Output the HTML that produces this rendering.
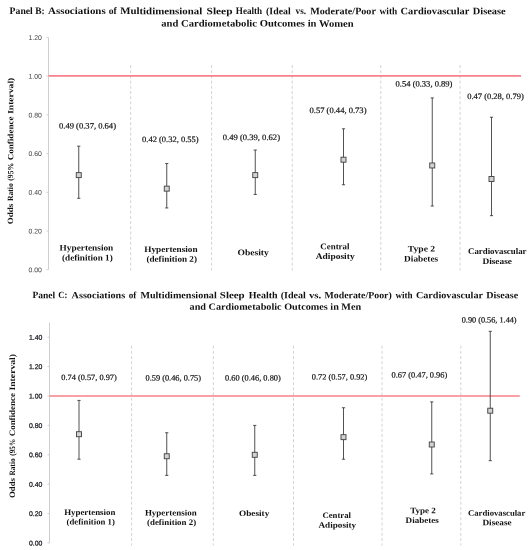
<!DOCTYPE html>
<html><head><meta charset="utf-8"><title>Sleep health forest plots</title>
<style>html,body{margin:0;padding:0;background:#fff}svg{display:block}</style></head>
<body>
<svg width="531" height="550" viewBox="0 0 531 550">
<rect width="531" height="550" fill="#fff"/>
<line x1="130.7" y1="65.0" x2="130.7" y2="270.5" stroke="#d3d3d3" stroke-width="1" stroke-dasharray="3 2.2"/>
<line x1="211.6" y1="65.0" x2="211.6" y2="270.5" stroke="#d3d3d3" stroke-width="1" stroke-dasharray="3 2.2"/>
<line x1="292.2" y1="65.0" x2="292.2" y2="270.5" stroke="#d3d3d3" stroke-width="1" stroke-dasharray="3 2.2"/>
<line x1="380.8" y1="65.0" x2="380.8" y2="270.5" stroke="#d3d3d3" stroke-width="1" stroke-dasharray="3 2.2"/>
<line x1="460.1" y1="65.0" x2="460.1" y2="270.5" stroke="#d3d3d3" stroke-width="1" stroke-dasharray="3 2.2"/>
<line x1="48.5" y1="37.5" x2="48.5" y2="269.7" stroke="#cfcfcf" stroke-width="1"/>
<line x1="46.5" y1="269.7" x2="48.5" y2="269.7" stroke="#cfcfcf" stroke-width="1"/>
<text x="41.9" y="272.2" font-family='"Liberation Sans", sans-serif' font-size="6.9" font-weight="normal" text-anchor="end" fill="#444" transform="rotate(0.03 41.9 272.2)">0.00</text>
<line x1="46.5" y1="231.0" x2="48.5" y2="231.0" stroke="#cfcfcf" stroke-width="1"/>
<text x="41.9" y="233.5" font-family='"Liberation Sans", sans-serif' font-size="6.9" font-weight="normal" text-anchor="end" fill="#444" transform="rotate(0.03 41.9 233.5)">0.20</text>
<line x1="46.5" y1="192.3" x2="48.5" y2="192.3" stroke="#cfcfcf" stroke-width="1"/>
<text x="41.9" y="194.8" font-family='"Liberation Sans", sans-serif' font-size="6.9" font-weight="normal" text-anchor="end" fill="#444" transform="rotate(0.03 41.9 194.8)">0.40</text>
<line x1="46.5" y1="153.6" x2="48.5" y2="153.6" stroke="#cfcfcf" stroke-width="1"/>
<text x="41.9" y="156.1" font-family='"Liberation Sans", sans-serif' font-size="6.9" font-weight="normal" text-anchor="end" fill="#444" transform="rotate(0.03 41.9 156.1)">0.60</text>
<line x1="46.5" y1="114.9" x2="48.5" y2="114.9" stroke="#cfcfcf" stroke-width="1"/>
<text x="41.9" y="117.4" font-family='"Liberation Sans", sans-serif' font-size="6.9" font-weight="normal" text-anchor="end" fill="#444" transform="rotate(0.03 41.9 117.4)">0.80</text>
<line x1="46.5" y1="76.2" x2="48.5" y2="76.2" stroke="#cfcfcf" stroke-width="1"/>
<text x="41.9" y="78.7" font-family='"Liberation Sans", sans-serif' font-size="6.9" font-weight="normal" text-anchor="end" fill="#444" transform="rotate(0.03 41.9 78.7)">1.00</text>
<line x1="46.5" y1="37.5" x2="48.5" y2="37.5" stroke="#cfcfcf" stroke-width="1"/>
<text x="41.9" y="40.0" font-family='"Liberation Sans", sans-serif' font-size="6.9" font-weight="normal" text-anchor="end" fill="#444" transform="rotate(0.03 41.9 40.0)">1.20</text>
<line x1="48.5" y1="75.9" x2="521" y2="75.9" stroke="#f7808a" stroke-width="1.65"/>
<path d="M78.75 146.18V198.29M77.15 146.18h3.2M77.15 198.29h3.2" stroke="#333" stroke-width="0.85" fill="none"/>
<rect x="76.25" y="172.63" width="5" height="5" fill="#d2d2d2" stroke="#3f3f3f" stroke-width="0.9"/>
<path d="M166.75 163.55V207.94M165.15 163.55h3.2M165.15 207.94h3.2" stroke="#333" stroke-width="0.85" fill="none"/>
<rect x="164.25" y="186.14" width="5" height="5" fill="#d2d2d2" stroke="#3f3f3f" stroke-width="0.9"/>
<path d="M255.25 150.04V194.43M253.65 150.04h3.2M253.65 194.43h3.2" stroke="#333" stroke-width="0.85" fill="none"/>
<rect x="252.75" y="172.63" width="5" height="5" fill="#d2d2d2" stroke="#3f3f3f" stroke-width="0.9"/>
<path d="M343.5 128.81V184.78M341.9 128.81h3.2M341.9 184.78h3.2" stroke="#333" stroke-width="0.85" fill="none"/>
<rect x="341.0" y="157.19" width="5" height="5" fill="#d2d2d2" stroke="#3f3f3f" stroke-width="0.9"/>
<path d="M432.25 97.93V206.01M430.65 97.93h3.2M430.65 206.01h3.2" stroke="#333" stroke-width="0.85" fill="none"/>
<rect x="429.75" y="162.98" width="5" height="5" fill="#d2d2d2" stroke="#3f3f3f" stroke-width="0.9"/>
<path d="M491.5 117.23V215.66M489.9 117.23h3.2M489.9 215.66h3.2" stroke="#333" stroke-width="0.85" fill="none"/>
<rect x="489.0" y="176.49" width="5" height="5" fill="#d2d2d2" stroke="#3f3f3f" stroke-width="0.9"/>
<text x="59" y="128.5" font-family='"Liberation Serif", serif' font-size="8.3" font-weight="normal" text-anchor="start" fill="#111" stroke="#111" stroke-width="0.2" textLength="57" lengthAdjust="spacingAndGlyphs" transform="rotate(0.03 59 128.5)">0.49 (0.37, 0.64)</text>
<text x="142" y="142.0" font-family='"Liberation Serif", serif' font-size="8.3" font-weight="normal" text-anchor="start" fill="#111" stroke="#111" stroke-width="0.2" textLength="56.7" lengthAdjust="spacingAndGlyphs" transform="rotate(0.03 142 142.0)">0.42 (0.32, 0.55)</text>
<text x="222.8" y="140.1" font-family='"Liberation Serif", serif' font-size="8.3" font-weight="normal" text-anchor="start" fill="#111" stroke="#111" stroke-width="0.2" textLength="57.2" lengthAdjust="spacingAndGlyphs" transform="rotate(0.03 222.8 140.1)">0.49 (0.39, 0.62)</text>
<text x="309.5" y="113.1" font-family='"Liberation Serif", serif' font-size="8.3" font-weight="normal" text-anchor="start" fill="#111" stroke="#111" stroke-width="0.2" textLength="57.0" lengthAdjust="spacingAndGlyphs" transform="rotate(0.03 309.5 113.1)">0.57 (0.44, 0.73)</text>
<text x="395.6" y="86.6" font-family='"Liberation Serif", serif' font-size="8.3" font-weight="normal" text-anchor="start" fill="#111" stroke="#111" stroke-width="0.2" textLength="56.8" lengthAdjust="spacingAndGlyphs" transform="rotate(0.03 395.6 86.6)">0.54 (0.33, 0.89)</text>
<text x="467.2" y="99.1" font-family='"Liberation Serif", serif' font-size="8.3" font-weight="normal" text-anchor="start" fill="#111" stroke="#111" stroke-width="0.2" textLength="56.6" lengthAdjust="spacingAndGlyphs" transform="rotate(0.03 467.2 99.1)">0.47 (0.28, 0.79)</text>
<text x="59.6" y="250.4" font-family='"Liberation Serif", serif' font-size="8.6" font-weight="bold" text-anchor="start" fill="#111" textLength="53.7" lengthAdjust="spacingAndGlyphs" transform="rotate(0.03 59.6 250.4)">Hypertension</text>
<text x="62" y="260.4" font-family='"Liberation Serif", serif' font-size="8.6" font-weight="bold" text-anchor="start" fill="#111" textLength="50.7" lengthAdjust="spacingAndGlyphs" transform="rotate(0.03 62 260.4)">(definition 1)</text>
<text x="144.3" y="252.1" font-family='"Liberation Serif", serif' font-size="8.6" font-weight="bold" text-anchor="start" fill="#111" textLength="53.3" lengthAdjust="spacingAndGlyphs" transform="rotate(0.03 144.3 252.1)">Hypertension</text>
<text x="146.4" y="261.8" font-family='"Liberation Serif", serif' font-size="8.6" font-weight="bold" text-anchor="start" fill="#111" textLength="50.6" lengthAdjust="spacingAndGlyphs" transform="rotate(0.03 146.4 261.8)">(definition 2)</text>
<text x="237.5" y="255.2" font-family='"Liberation Serif", serif' font-size="8.6" font-weight="bold" text-anchor="start" fill="#111" textLength="31.3" lengthAdjust="spacingAndGlyphs" transform="rotate(0.03 237.5 255.2)">Obesity</text>
<text x="320.3" y="249.2" font-family='"Liberation Serif", serif' font-size="8.6" font-weight="bold" text-anchor="start" fill="#111" textLength="29.2" lengthAdjust="spacingAndGlyphs" transform="rotate(0.03 320.3 249.2)">Central</text>
<text x="315.8" y="259.1" font-family='"Liberation Serif", serif' font-size="8.6" font-weight="bold" text-anchor="start" fill="#111" textLength="38.8" lengthAdjust="spacingAndGlyphs" transform="rotate(0.03 315.8 259.1)">Adiposity</text>
<text x="407.7" y="251.6" font-family='"Liberation Serif", serif' font-size="8.6" font-weight="bold" text-anchor="start" fill="#111" textLength="27.5" lengthAdjust="spacingAndGlyphs" transform="rotate(0.03 407.7 251.6)">Type 2</text>
<text x="404.1" y="261.5" font-family='"Liberation Serif", serif' font-size="8.6" font-weight="bold" text-anchor="start" fill="#111" textLength="34.1" lengthAdjust="spacingAndGlyphs" transform="rotate(0.03 404.1 261.5)">Diabetes</text>
<text x="468" y="254.0" font-family='"Liberation Serif", serif' font-size="8.6" font-weight="bold" text-anchor="start" fill="#111" textLength="58.5" lengthAdjust="spacingAndGlyphs" transform="rotate(0.03 468 254.0)">Cardiovascular</text>
<text x="482.4" y="263.9" font-family='"Liberation Serif", serif' font-size="8.6" font-weight="bold" text-anchor="start" fill="#111" textLength="29.6" lengthAdjust="spacingAndGlyphs" transform="rotate(0.03 482.4 263.9)">Disease</text>
<text x="0" y="0" font-family='"Liberation Serif", serif' font-size="8.0" font-weight="bold" text-anchor="start" fill="#111" transform="translate(13.1 224.25) rotate(-89.97)"><tspan x="0.0" textLength="20.6" lengthAdjust="spacingAndGlyphs">Odds</tspan> <tspan x="23.2" textLength="17.8" lengthAdjust="spacingAndGlyphs">Ratio</tspan> <tspan x="43.6" textLength="17.7" lengthAdjust="spacingAndGlyphs">(95%</tspan> <tspan x="63.9" textLength="43.9" lengthAdjust="spacingAndGlyphs">Confidence</tspan> <tspan x="110.4" textLength="36.1" lengthAdjust="spacingAndGlyphs">Interval)</tspan></text>
<text x="9.6" y="14.2" font-family='"Liberation Serif", serif' font-size="9.8" font-weight="bold" text-anchor="start" fill="#111" transform="rotate(0.03 257.6 14.2)"><tspan x="9.6" textLength="23.2" lengthAdjust="spacingAndGlyphs">Panel</tspan> <tspan x="35.2" textLength="9.4" lengthAdjust="spacingAndGlyphs">B:</tspan> <tspan x="48.0" textLength="57.7" lengthAdjust="spacingAndGlyphs">Associations</tspan> <tspan x="108.8" textLength="8.0" lengthAdjust="spacingAndGlyphs">of</tspan> <tspan x="120.2" textLength="82.0" lengthAdjust="spacingAndGlyphs">Multidimensional</tspan> <tspan x="206.6" textLength="25.9" lengthAdjust="spacingAndGlyphs">Sleep</tspan> <tspan x="235.8" textLength="26.4" lengthAdjust="spacingAndGlyphs">Health</tspan> <tspan x="266.1" textLength="24.6" lengthAdjust="spacingAndGlyphs">(Ideal</tspan> <tspan x="295.6" textLength="10.4" lengthAdjust="spacingAndGlyphs">vs.</tspan> <tspan x="310.3" textLength="65.4" lengthAdjust="spacingAndGlyphs">Moderate/Poor</tspan> <tspan x="379.55" textLength="17.65" lengthAdjust="spacingAndGlyphs">with</tspan> <tspan x="400.55" textLength="68.65" lengthAdjust="spacingAndGlyphs">Cardiovascular</tspan> <tspan x="472.8" textLength="32.9" lengthAdjust="spacingAndGlyphs">Disease</tspan></text>
<text x="161.3" y="26.6" font-family='"Liberation Serif", serif' font-size="9.8" font-weight="bold" text-anchor="start" fill="#111" transform="rotate(0.03 257.5 26.6)"><tspan x="161.3" textLength="192.4" lengthAdjust="spacingAndGlyphs">and Cardiometabolic Outcomes in Women</tspan></text>
<line x1="131.6" y1="345.7" x2="131.6" y2="545.5" stroke="#d3d3d3" stroke-width="1" stroke-dasharray="3 2.2"/>
<line x1="213.3" y1="345.7" x2="213.3" y2="545.5" stroke="#d3d3d3" stroke-width="1" stroke-dasharray="3 2.2"/>
<line x1="293.5" y1="345.7" x2="293.5" y2="545.5" stroke="#d3d3d3" stroke-width="1" stroke-dasharray="3 2.2"/>
<line x1="382" y1="345.7" x2="382" y2="545.5" stroke="#d3d3d3" stroke-width="1" stroke-dasharray="3 2.2"/>
<line x1="460.8" y1="345.7" x2="460.8" y2="545.5" stroke="#d3d3d3" stroke-width="1" stroke-dasharray="3 2.2"/>
<line x1="49.5" y1="322.5" x2="49.5" y2="543.0" stroke="#cfcfcf" stroke-width="1"/>
<line x1="47.5" y1="543.0" x2="49.5" y2="543.0" stroke="#cfcfcf" stroke-width="1"/>
<text x="42.4" y="545.5" font-family='"Liberation Sans", sans-serif' font-size="6.9" font-weight="normal" text-anchor="end" fill="#1c1c24" stroke="#1c1c24" stroke-width="0.25" transform="rotate(0.03 42.4 545.5)">0.00</text>
<line x1="47.5" y1="513.6" x2="49.5" y2="513.6" stroke="#cfcfcf" stroke-width="1"/>
<text x="42.4" y="516.1" font-family='"Liberation Sans", sans-serif' font-size="6.9" font-weight="normal" text-anchor="end" fill="#1c1c24" stroke="#1c1c24" stroke-width="0.25" transform="rotate(0.03 42.4 516.1)">0.20</text>
<line x1="47.5" y1="484.2" x2="49.5" y2="484.2" stroke="#cfcfcf" stroke-width="1"/>
<text x="42.4" y="486.7" font-family='"Liberation Sans", sans-serif' font-size="6.9" font-weight="normal" text-anchor="end" fill="#1c1c24" stroke="#1c1c24" stroke-width="0.25" transform="rotate(0.03 42.4 486.7)">0.40</text>
<line x1="47.5" y1="454.8" x2="49.5" y2="454.8" stroke="#cfcfcf" stroke-width="1"/>
<text x="42.4" y="457.3" font-family='"Liberation Sans", sans-serif' font-size="6.9" font-weight="normal" text-anchor="end" fill="#1c1c24" stroke="#1c1c24" stroke-width="0.25" transform="rotate(0.03 42.4 457.3)">0.60</text>
<line x1="47.5" y1="425.4" x2="49.5" y2="425.4" stroke="#cfcfcf" stroke-width="1"/>
<text x="42.4" y="427.9" font-family='"Liberation Sans", sans-serif' font-size="6.9" font-weight="normal" text-anchor="end" fill="#1c1c24" stroke="#1c1c24" stroke-width="0.25" transform="rotate(0.03 42.4 427.9)">0.80</text>
<line x1="47.5" y1="396.0" x2="49.5" y2="396.0" stroke="#cfcfcf" stroke-width="1"/>
<text x="42.4" y="398.5" font-family='"Liberation Sans", sans-serif' font-size="6.9" font-weight="normal" text-anchor="end" fill="#1c1c24" stroke="#1c1c24" stroke-width="0.25" transform="rotate(0.03 42.4 398.5)">1.00</text>
<line x1="47.5" y1="366.6" x2="49.5" y2="366.6" stroke="#cfcfcf" stroke-width="1"/>
<text x="42.4" y="369.1" font-family='"Liberation Sans", sans-serif' font-size="6.9" font-weight="normal" text-anchor="end" fill="#1c1c24" stroke="#1c1c24" stroke-width="0.25" transform="rotate(0.03 42.4 369.1)">1.20</text>
<line x1="47.5" y1="337.2" x2="49.5" y2="337.2" stroke="#cfcfcf" stroke-width="1"/>
<text x="42.4" y="339.7" font-family='"Liberation Sans", sans-serif' font-size="6.9" font-weight="normal" text-anchor="end" fill="#1c1c24" stroke="#1c1c24" stroke-width="0.25" transform="rotate(0.03 42.4 339.7)">1.40</text>
<line x1="49.5" y1="396.0" x2="519.75" y2="396.0" stroke="#f7808a" stroke-width="1.65"/>
<path d="M79 400.41V459.21M77.4 400.41h3.2M77.4 459.21h3.2" stroke="#333" stroke-width="0.85" fill="none"/>
<rect x="76.5" y="431.72" width="5" height="5" fill="#d2d2d2" stroke="#3f3f3f" stroke-width="0.9"/>
<path d="M166.75 432.75V475.38M165.15 432.75h3.2M165.15 475.38h3.2" stroke="#333" stroke-width="0.85" fill="none"/>
<rect x="164.25" y="453.77" width="5" height="5" fill="#d2d2d2" stroke="#3f3f3f" stroke-width="0.9"/>
<path d="M254.75 425.4V475.38M253.15 425.4h3.2M253.15 475.38h3.2" stroke="#333" stroke-width="0.85" fill="none"/>
<rect x="252.25" y="452.3" width="5" height="5" fill="#d2d2d2" stroke="#3f3f3f" stroke-width="0.9"/>
<path d="M343.5 407.76V459.21M341.9 407.76h3.2M341.9 459.21h3.2" stroke="#333" stroke-width="0.85" fill="none"/>
<rect x="341.0" y="434.66" width="5" height="5" fill="#d2d2d2" stroke="#3f3f3f" stroke-width="0.9"/>
<path d="M431.75 401.88V473.91M430.15 401.88h3.2M430.15 473.91h3.2" stroke="#333" stroke-width="0.85" fill="none"/>
<rect x="429.25" y="442.01" width="5" height="5" fill="#d2d2d2" stroke="#3f3f3f" stroke-width="0.9"/>
<path d="M490.25 331.32V460.68M488.65 331.32h3.2M488.65 460.68h3.2" stroke="#333" stroke-width="0.85" fill="none"/>
<rect x="487.75" y="408.2" width="5" height="5" fill="#d2d2d2" stroke="#3f3f3f" stroke-width="0.9"/>
<text x="61.25" y="379.95" font-family='"Liberation Serif", serif' font-size="8.1" font-weight="normal" text-anchor="start" fill="#111" stroke="#111" stroke-width="0.2" textLength="55.5" lengthAdjust="spacingAndGlyphs" transform="rotate(0.03 61.25 379.95)">0.74 (0.57, 0.97)</text>
<text x="145.5" y="380.45" font-family='"Liberation Serif", serif' font-size="8.1" font-weight="normal" text-anchor="start" fill="#111" stroke="#111" stroke-width="0.2" textLength="55.5" lengthAdjust="spacingAndGlyphs" transform="rotate(0.03 145.5 380.45)">0.59 (0.46, 0.75)</text>
<text x="225" y="380.5" font-family='"Liberation Serif", serif' font-size="8.1" font-weight="normal" text-anchor="start" fill="#111" stroke="#111" stroke-width="0.2" textLength="55.8" lengthAdjust="spacingAndGlyphs" transform="rotate(0.03 225 380.5)">0.60 (0.46, 0.80)</text>
<text x="311.75" y="379.45" font-family='"Liberation Serif", serif' font-size="8.1" font-weight="normal" text-anchor="start" fill="#111" stroke="#111" stroke-width="0.2" textLength="55.5" lengthAdjust="spacingAndGlyphs" transform="rotate(0.03 311.75 379.45)">0.72 (0.57, 0.92)</text>
<text x="391.5" y="377.5" font-family='"Liberation Serif", serif' font-size="8.1" font-weight="normal" text-anchor="start" fill="#111" stroke="#111" stroke-width="0.2" textLength="55.75" lengthAdjust="spacingAndGlyphs" transform="rotate(0.03 391.5 377.5)">0.67 (0.47, 0.96)</text>
<text x="461.75" y="322.5" font-family='"Liberation Serif", serif' font-size="8.1" font-weight="normal" text-anchor="start" fill="#111" stroke="#111" stroke-width="0.2" textLength="54.85" lengthAdjust="spacingAndGlyphs" transform="rotate(0.03 461.75 322.5)">0.90 (0.56, 1.44)</text>
<text x="64.2" y="515.0" font-family='"Liberation Serif", serif' font-size="8.4" font-weight="bold" text-anchor="start" fill="#111" textLength="51.2" lengthAdjust="spacingAndGlyphs" transform="rotate(0.03 64.2 515.0)">Hypertension</text>
<text x="66.6" y="524.6" font-family='"Liberation Serif", serif' font-size="8.4" font-weight="bold" text-anchor="start" fill="#111" textLength="48.2" lengthAdjust="spacingAndGlyphs" transform="rotate(0.03 66.6 524.6)">(definition 1)</text>
<text x="144.9" y="515.5" font-family='"Liberation Serif", serif' font-size="8.4" font-weight="bold" text-anchor="start" fill="#111" textLength="51.8" lengthAdjust="spacingAndGlyphs" transform="rotate(0.03 144.9 515.5)">Hypertension</text>
<text x="147" y="525.1" font-family='"Liberation Serif", serif' font-size="8.4" font-weight="bold" text-anchor="start" fill="#111" textLength="49.1" lengthAdjust="spacingAndGlyphs" transform="rotate(0.03 147 525.1)">(definition 2)</text>
<text x="239" y="516.1" font-family='"Liberation Serif", serif' font-size="8.4" font-weight="bold" text-anchor="start" fill="#111" textLength="30.3" lengthAdjust="spacingAndGlyphs" transform="rotate(0.03 239 516.1)">Obesity</text>
<text x="322.4" y="518.1" font-family='"Liberation Serif", serif' font-size="8.4" font-weight="bold" text-anchor="start" fill="#111" textLength="28.6" lengthAdjust="spacingAndGlyphs" transform="rotate(0.03 322.4 518.1)">Central</text>
<text x="318.5" y="527.7" font-family='"Liberation Serif", serif' font-size="8.4" font-weight="bold" text-anchor="start" fill="#111" textLength="37.6" lengthAdjust="spacingAndGlyphs" transform="rotate(0.03 318.5 527.7)">Adiposity</text>
<text x="410.2" y="513.2" font-family='"Liberation Serif", serif' font-size="8.4" font-weight="bold" text-anchor="start" fill="#111" textLength="25.6" lengthAdjust="spacingAndGlyphs" transform="rotate(0.03 410.2 513.2)">Type 2</text>
<text x="405.6" y="522.9" font-family='"Liberation Serif", serif' font-size="8.4" font-weight="bold" text-anchor="start" fill="#111" textLength="33.2" lengthAdjust="spacingAndGlyphs" transform="rotate(0.03 405.6 522.9)">Diabetes</text>
<text x="468" y="515.7" font-family='"Liberation Serif", serif' font-size="8.4" font-weight="bold" text-anchor="start" fill="#111" textLength="57.3" lengthAdjust="spacingAndGlyphs" transform="rotate(0.03 468 515.7)">Cardiovascular</text>
<text x="482.4" y="525.3" font-family='"Liberation Serif", serif' font-size="8.4" font-weight="bold" text-anchor="start" fill="#111" textLength="29.3" lengthAdjust="spacingAndGlyphs" transform="rotate(0.03 482.4 525.3)">Disease</text>
<text x="0" y="0" font-family='"Liberation Serif", serif' font-size="8.2" font-weight="bold" text-anchor="start" fill="#111" transform="translate(15.0 498.05) rotate(-89.97)"><tspan x="0.0" textLength="20.0" lengthAdjust="spacingAndGlyphs">Odds</tspan> <tspan x="22.6" textLength="17.1" lengthAdjust="spacingAndGlyphs">Ratio</tspan> <tspan x="42.4" textLength="16.8" lengthAdjust="spacingAndGlyphs">(95%</tspan> <tspan x="61.8" textLength="43.1" lengthAdjust="spacingAndGlyphs">Confidence</tspan> <tspan x="107.5" textLength="36.6" lengthAdjust="spacingAndGlyphs">Interval)</tspan></text>
<text x="32.4" y="298.25" font-family='"Liberation Serif", serif' font-size="9.5" font-weight="bold" text-anchor="start" fill="#111" transform="rotate(0.03 275.3 298.25)"><tspan x="32.4" textLength="22.8" lengthAdjust="spacingAndGlyphs">Panel</tspan> <tspan x="58.3" textLength="9.0" lengthAdjust="spacingAndGlyphs">C:</tspan> <tspan x="71.6" textLength="53.6" lengthAdjust="spacingAndGlyphs">Associations</tspan> <tspan x="128.8" textLength="7.6" lengthAdjust="spacingAndGlyphs">of</tspan> <tspan x="140.4" textLength="76.3" lengthAdjust="spacingAndGlyphs">Multidimensional</tspan> <tspan x="219.8" textLength="24.9" lengthAdjust="spacingAndGlyphs">Sleep</tspan> <tspan x="248.7" textLength="28.9" lengthAdjust="spacingAndGlyphs">Health</tspan> <tspan x="280.65" textLength="25.25" lengthAdjust="spacingAndGlyphs">(Ideal</tspan> <tspan x="308.95" textLength="12.35" lengthAdjust="spacingAndGlyphs">vs.</tspan> <tspan x="324.5" textLength="67.2" lengthAdjust="spacingAndGlyphs">Moderate/Poor)</tspan> <tspan x="395.4" textLength="17.2" lengthAdjust="spacingAndGlyphs">with</tspan> <tspan x="415.9" textLength="66.9" lengthAdjust="spacingAndGlyphs">Cardiovascular</tspan> <tspan x="486.3" textLength="31.9" lengthAdjust="spacingAndGlyphs">Disease</tspan></text>
<text x="189.55" y="309.75" font-family='"Liberation Serif", serif' font-size="9.5" font-weight="bold" text-anchor="start" fill="#111" transform="rotate(0.03 275.4 309.75)"><tspan x="189.55" textLength="171.65" lengthAdjust="spacingAndGlyphs">and Cardiometabolic Outcomes in Men</tspan></text>
</svg>
</body></html>
